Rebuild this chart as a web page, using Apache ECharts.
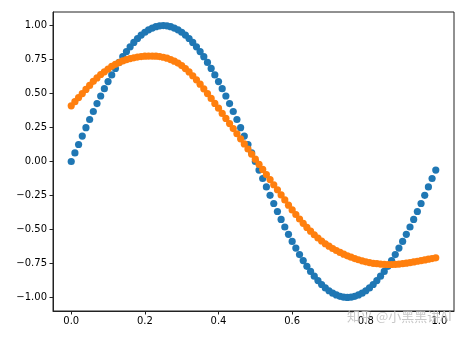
<!DOCTYPE html>
<html>
<head>
<meta charset="utf-8">
<script src="https://cdn.jsdelivr.net/npm/echarts@6/dist/echarts.min.js"></script>
<style>html,body{margin:0;padding:0;background:#fff}#c{width:474px;height:338px}</style>
</head>
<body>
<div id="c"></div>
<script>
var xValues = [0.00,0.01,0.02,0.03,0.04,0.05,0.06,0.07,0.08,0.09,0.10,0.11,0.12,0.13,0.14,0.15,0.16,0.17,0.18,0.19,0.20,0.21,0.22,0.23,0.24,0.25,0.26,0.27,0.28,0.29,0.30,0.31,0.32,0.33,0.34,0.35,0.36,0.37,0.38,0.39,0.40,0.41,0.42,0.43,0.44,0.45,0.46,0.47,0.48,0.49,0.50,0.51,0.52,0.53,0.54,0.55,0.56,0.57,0.58,0.59,0.60,0.61,0.62,0.63,0.64,0.65,0.66,0.67,0.68,0.69,0.70,0.71,0.72,0.73,0.74,0.75,0.76,0.77,0.78,0.79,0.80,0.81,0.82,0.83,0.84,0.85,0.86,0.87,0.88,0.89,0.90,0.91,0.92,0.93,0.94,0.95,0.96,0.97,0.98,0.99];
var blueValues = [0,0.063,0.125,0.187,0.249,0.309,0.368,0.426,0.482,0.536,0.588,0.637,0.685,0.729,0.771,0.809,0.844,0.876,0.905,0.930,0.951,0.969,0.982,0.992,0.998,1.000,0.998,0.992,0.982,0.969,0.951,0.930,0.905,0.876,0.844,0.809,0.771,0.729,0.685,0.637,0.588,0.536,0.482,0.426,0.368,0.309,0.249,0.187,0.125,0.063,0,-0.063,-0.125,-0.187,-0.249,-0.309,-0.368,-0.426,-0.482,-0.536,-0.588,-0.637,-0.685,-0.729,-0.771,-0.809,-0.844,-0.876,-0.905,-0.930,-0.951,-0.969,-0.982,-0.992,-0.998,-1.000,-0.998,-0.992,-0.982,-0.969,-0.951,-0.930,-0.905,-0.876,-0.844,-0.809,-0.771,-0.729,-0.685,-0.637,-0.588,-0.536,-0.482,-0.426,-0.368,-0.309,-0.249,-0.187,-0.125,-0.063];
var orangeValues = [0.410,0.440,0.470,0.500,0.530,0.560,0.590,0.615,0.640,0.660,0.680,0.700,0.715,0.728,0.740,0.750,0.757,0.763,0.768,0.772,0.775,0.776,0.776,0.775,0.772,0.767,0.760,0.750,0.738,0.724,0.706,0.684,0.659,0.631,0.601,0.569,0.535,0.500,0.464,0.427,0.392,0.354,0.317,0.279,0.242,0.204,0.167,0.129,0.092,0.054,0.017,-0.021,-0.058,-0.096,-0.133,-0.171,-0.208,-0.246,-0.283,-0.321,-0.356,-0.390,-0.423,-0.455,-0.485,-0.513,-0.539,-0.563,-0.585,-0.605,-0.623,-0.640,-0.655,-0.669,-0.682,-0.694,-0.704,-0.714,-0.723,-0.731,-0.738,-0.744,-0.749,-0.752,-0.755,-0.757,-0.758,-0.758,-0.757,-0.755,-0.752,-0.748,-0.744,-0.739,-0.734,-0.729,-0.724,-0.719,-0.714,-0.709];
var xTicks = [0.0,0.2,0.4,0.6,0.8,1.0];
var yTicks = [-1.00,-0.75,-0.50,-0.25,0.00,0.25,0.50,0.75,1.00];
var watermark = '知乎 @小黑黑讲AI';

function pairs(xs, ys){ return xs.map(function(x,i){ return [x, ys[i]]; }); }
function minus(s){ return s.replace('-', '\u2212'); }

var chart = echarts.init(document.getElementById('c'), null, {renderer:'canvas'});
var font = 'DejaVu Sans';
chart.setOption({
  animation:false,
  backgroundColor:'#fff',
  grid:{left:53, right:20, top:12, bottom:27, show:true, borderColor:'#222', borderWidth:1, backgroundColor:'transparent'},
  xAxis:{
    type:'value', min:-0.0495, max:1.0395,
    axisLine:{show:true, onZero:false, lineStyle:{color:'#222', width:1}},
    splitLine:{show:false},
    axisTick:{show:true, inside:false, length:3.5, lineStyle:{color:'#222'}, customValues:xTicks},
    axisLabel:{show:true, margin:5, color:'#000', fontFamily:font, fontSize:10, customValues:xTicks,
      formatter:function(v){ return minus(v.toFixed(1)); }}
  },
  yAxis:{
    type:'value', min:-1.1, max:1.1,
    axisLine:{show:true, onZero:false, lineStyle:{color:'#222', width:1}},
    splitLine:{show:false},
    axisTick:{show:true, inside:false, length:3.5, lineStyle:{color:'#222'}, customValues:yTicks},
    axisLabel:{show:true, margin:6, color:'#000', fontFamily:font, fontSize:10, customValues:yTicks,
      formatter:function(v){ return minus(v.toFixed(2)); }}
  },
  series:[
    {type:'scatter', data:pairs(xValues, blueValues), symbol:'circle', symbolSize:7.2, itemStyle:{color:'#1f77b4', opacity:1}, z:2},
    {type:'scatter', data:pairs(xValues, orangeValues), symbol:'circle', symbolSize:7.2, itemStyle:{color:'#ff7f0e', opacity:1}, z:3}
  ],
  graphic:[
    {type:'text', left:347, top:310, z:100, style:{text:watermark, fontFamily:'Noto Sans CJK SC', fontSize:13, fill:'rgba(190,190,190,0.85)'}}
  ]
});
</script>
</body>
</html>
